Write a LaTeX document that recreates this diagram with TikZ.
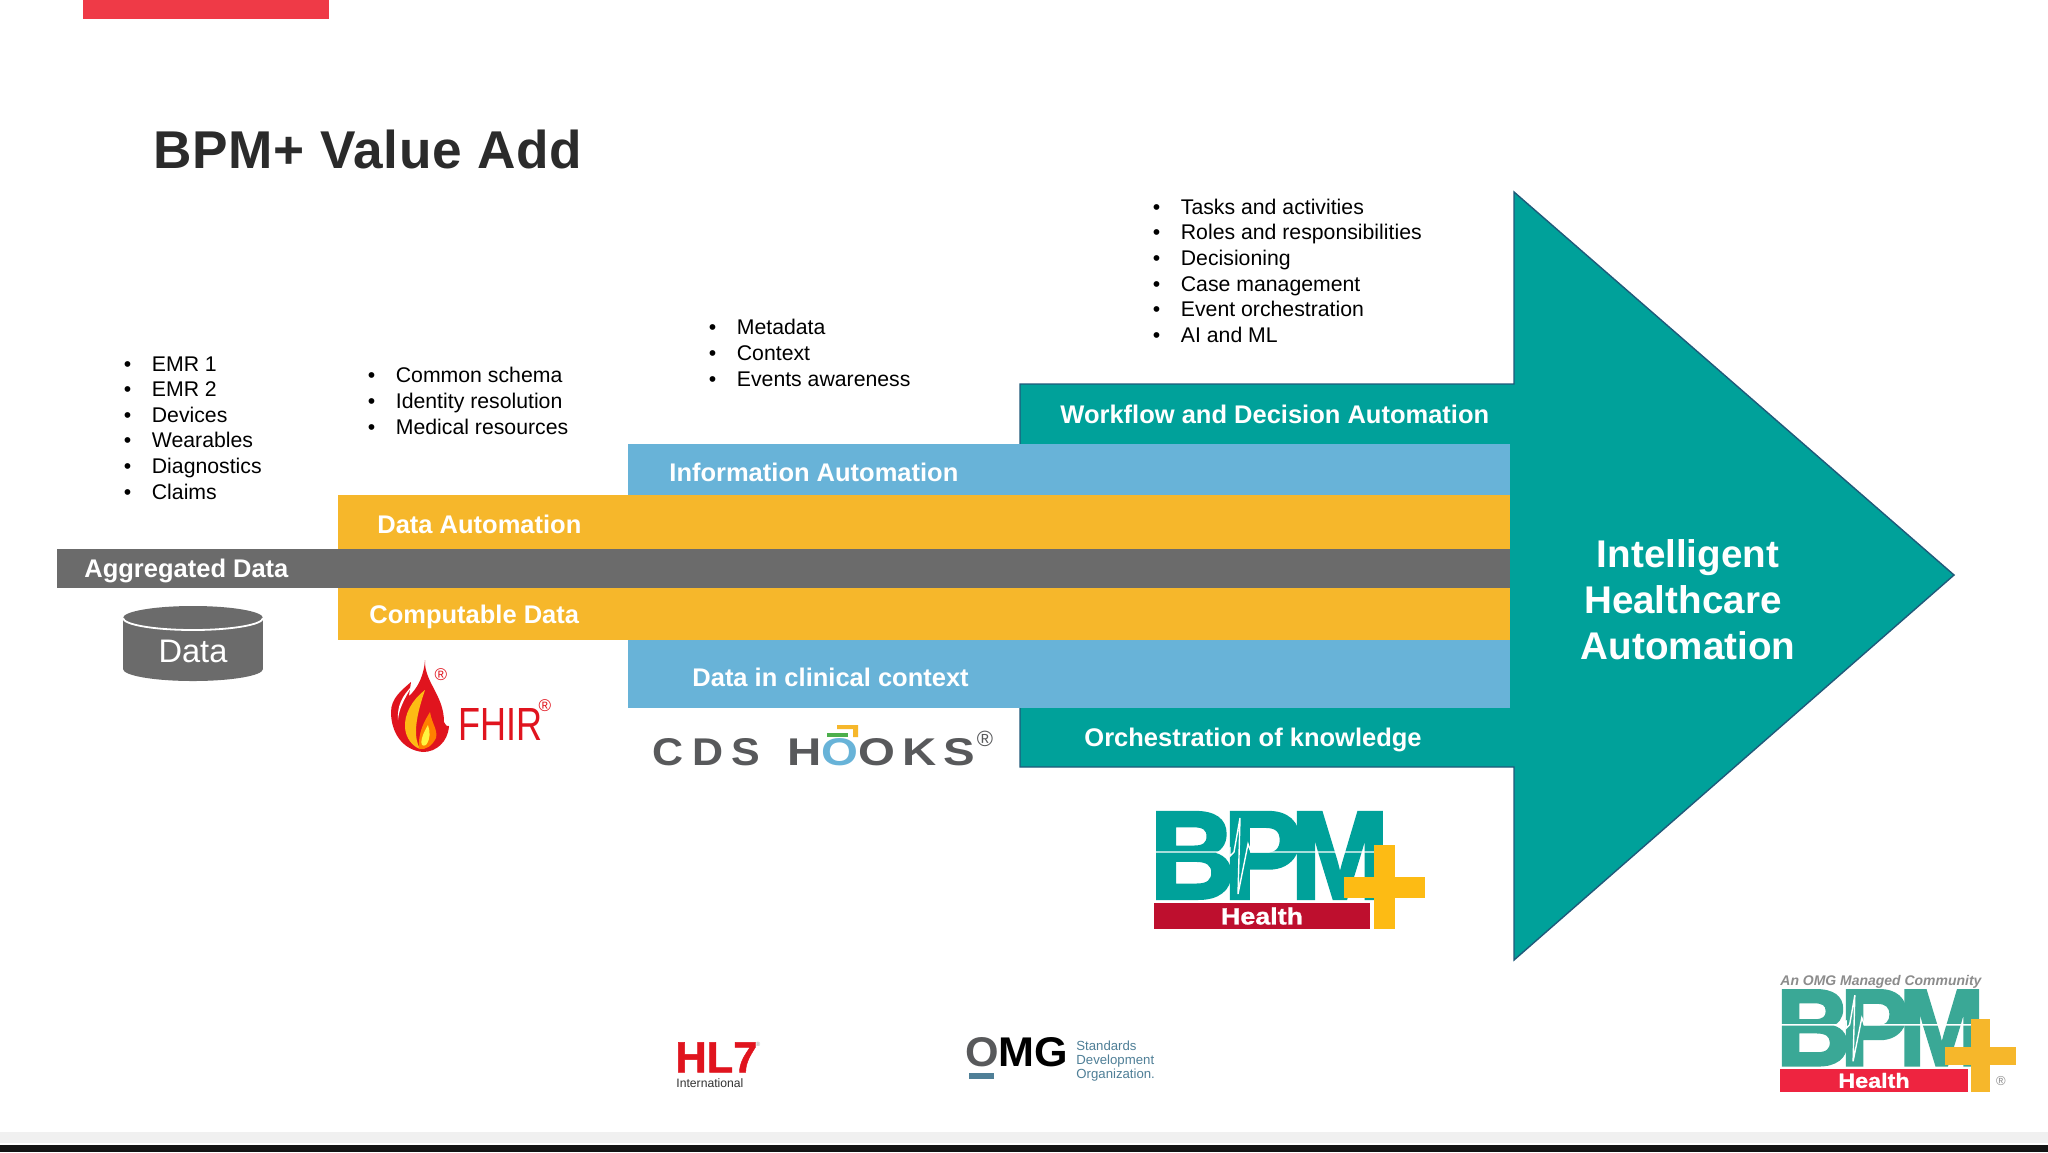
\documentclass[tikz,border=0pt]{standalone}
\usepackage{fontspec}
\usepackage{graphicx}
\setmainfont{Liberation Sans}
\definecolor{teal1}{HTML}{00A19A}
\definecolor{teal2}{HTML}{3AA896}
\definecolor{edge1}{HTML}{1F5A7A}
\definecolor{sky1}{HTML}{68B3D8}
\definecolor{amber1}{HTML}{F6B72B}
\definecolor{amber2}{HTML}{FDBB14}
\definecolor{slate1}{HTML}{6B6B6B}
\definecolor{slate2}{HTML}{58595B}
\definecolor{red1}{HTML}{EF3A47}
\definecolor{red2}{HTML}{BE0F2E}
\definecolor{red3}{HTML}{EE2440}
\definecolor{red4}{HTML}{E0141E}
\definecolor{ink1}{HTML}{2B2B2B}
\definecolor{omg1}{HTML}{4F7F97}
\newcommand\bulletitem[1]{\makebox[14pt][l]{\textbullet}#1}
\newcommand\bpmlogo[7]{%
	\begin{scope}[shift={(#1,#2)},scale=#3,transform shape]
		\node (#7L) [anchor=north west,inner sep=0pt,text=#4] at (0,0) {\resizebox{115pt}{43pt}{\addfontfeature{FakeBold=2.5}\bfseries\kern-.04em B\kern-.1em P\kern-.1em M\kern-.04em}};
		\draw[white,line width=0.7pt] (0,40) -- (70,40) -- (76,36) -- (76,44) -- (80,40) -- (86,6) -- (84,82) -- (94,32) -- (97,40) -- (220,40);
		\fill[#5] (0,91) rectangle (216,117);
		\fill[#6] (220,33) rectangle (241,117);
		\fill[#6] (190,65) rectangle (271,86);
		\node (#7H) [white,inner sep=0pt] at (108,104) {\resizebox{41pt}{8.5pt}{\addfontfeature{FakeBold=1}\bfseries Health}};
	\end{scope}}
\begin{document}
\begin{tikzpicture}[x=0.5pt,y=-0.5pt,
	label/.style={anchor=base west,inner sep=0pt,text=white,font=\fontsize{12.75}{15}\bfseries\selectfont},
	items/.style={anchor=north west,inner sep=0pt,align=left,text=black,font=\fontsize{10.62}{12.8}\selectfont}]
	\useasboundingbox (0,0) rectangle (2048,1152);
	\fill[white] (0,0) rectangle (2048,1152);
	\fill[red1] (83,0) rectangle (329,19);
	\fill[black!6] (0,1132) rectangle (2048,1143);
	\fill[black!92] (0,1145) rectangle (2048,1152);
	\node (Title) [anchor=base west,inner sep=0pt,text=ink1,font=\fontsize{26.6}{32}\bfseries\selectfont] at (153,168) {\addfontfeature{LetterSpace=1.3}BPM+ Value Add};

	\draw[edge1,fill=teal1,line width=0.7pt] (1020,384) -- (1514,384) -- (1514,192) -- (1954,575) -- (1514,960) -- (1514,767) -- (1020,767) -- cycle;
	\fill[sky1] (628,444) rectangle (1510,708);
	\fill[amber1] (338,495) rectangle (1510,640);
	\fill[slate1] (57,549) rectangle (1510,588);

	\node (Agg) [label] at (84,577) {Aggregated Data};
	\node (DataAuto) [label] at (377,533) {Data Automation};
	\node (Computable) [label] at (369,623) {Computable Data};
	\node (InfoAuto) [label] at (669,481) {Information Automation};
	\node (Clinical) [label] at (692,686) {Data in clinical context};
	\node (Workflow) [label] at (1060,423) {Workflow and Decision Automation};
	\node (Orchestration) [label] at (1084,746) {Orchestration of knowledge};
	\node (Goal) [white,inner sep=0pt,align=center,font=\fontsize{19.3}{23}\bfseries\selectfont] at (1688,600) {Intelligent\\\mbox{Healthcare\kern5.2pt}\\Automation};

	\node (ListA) [items] at (123.5,356) {\bulletitem{EMR 1}\\\bulletitem{EMR 2}\\\bulletitem{Devices}\\\bulletitem{Wearables}\\\bulletitem{Diagnostics}\\\bulletitem{Claims}};
	\node (ListB) [items] at (367.5,367) {\bulletitem{Common schema}\\\bulletitem{Identity resolution}\\\bulletitem{Medical resources}};
	\node (ListC) [items] at (708.5,319) {\bulletitem{Metadata}\\\bulletitem{Context}\\\bulletitem{Events awareness}};
	\node (ListD) [items] at (1152.5,198.5) {\bulletitem{Tasks and activities}\\\bulletitem{Roles and responsibilities}\\\bulletitem{Decisioning}\\\bulletitem{Case management}\\\bulletitem{Event orchestration}\\\bulletitem{AI and ML}};

	% data drum
	\fill[slate1] (123,618) rectangle (263,669);
	\fill[slate1] (193,669) ellipse [x radius=70,y radius=12];
	\fill[slate1] (193,618) ellipse [x radius=70,y radius=12];
	\draw[white,line width=0.9pt] (123,618) arc [start angle=180,end angle=0,x radius=70,y radius=12];
	\node (Drum) [white,inner sep=0pt,font=\fontsize{16.3}{20}\selectfont] at (193,651) {Data};

	% flame
	\fill[red4] (425,660) .. controls (424,682) and (444,695) .. (444,722) .. controls (446,726) and (448,727) .. (449,726) .. controls (448,742) and (436,752) .. (423,752) .. controls (402,750) and (391,732) .. (391,712) .. controls (391,698) and (402,690) .. (411,682) .. controls (410,690) and (409,694) .. (409,696) .. controls (418,688) and (424,675) .. (425,660) -- cycle;
	\fill[white] (412,686) .. controls (402,696) and (397,706) .. (398,720) .. controls (399,708) and (405,698) .. (412,686) -- cycle;
	\fill[amber2] (425,690) .. controls (412,700) and (404,714) .. (405,728) .. controls (406,738) and (412,746) .. (420,749) .. controls (414,738) and (414,722) .. (425,690) -- cycle;
	\fill[orange] (430,712) .. controls (432,724) and (438,730) .. (436,738) .. controls (432,746) and (426,750) .. (419,749) .. controls (418,732) and (424,722) .. (430,712) -- cycle;
	\fill[yellow!75] (428,725) .. controls (430,732) and (431,738) .. (426,745) .. controls (420,748) and (419,740) .. (428,725) -- cycle;
	\node (FlameReg) [text=red4,inner sep=0pt,font=\fontsize{8.5}{9}\selectfont] at (441,675) {®};
	\node (Fhir) [anchor=north west,inner sep=0pt,text=red4] at (458,708) {\resizebox{42pt}{16pt}{FHIR}};
	\node (FhirReg) [text=red4,inner sep=0pt,font=\fontsize{8.5}{9}\selectfont] at (545,706) {®};

	% cds hooks
	\node (Cds) [anchor=north west,inner sep=0pt,text=slate2] at (652,738) {\resizebox{54pt}{13.5pt}{\addfontfeature{LetterSpace=20}\bfseries CDS}};
	\node (Hooks) [anchor=north west,inner sep=0pt,text=slate2] at (787,738) {\resizebox{94pt}{13.5pt}{\addfontfeature{LetterSpace=15}\bfseries H\textcolor{sky1}{O}OKS}};
	\fill[green!55!black!70!white] (827,733) rectangle (848,737);
	\fill[amber1] (837,725) -- (858,725) -- (858,737) -- (853,737) -- (853,729) -- (837,729) -- cycle;
	\node (HooksReg) [text=slate2,inner sep=0pt,font=\fontsize{11}{12}\selectfont] at (985,739) {®};

	% bpm logos
	\bpmlogo{1154}{812}{1}{teal1}{red2}{amber2}{Mid}
	\bpmlogo{1780}{990}{0.87}{teal2}{red3}{amber1}{Corner}
	\node (Community) [anchor=base west,inner sep=0pt,text=black!45] at (1780,985) {\resizebox{100.5pt}{!}{\bfseries\itshape An OMG Managed Community}};
	\node (CornerReg) [text=black!45,inner sep=0pt,font=\fontsize{6.5}{7}\selectfont] at (2001,1081) {®};

	% bottom logos
	\node (Hl) [anchor=north west,inner sep=0pt,text=red4] at (675,1042) {\resizebox{41pt}{15pt}{\addfontfeature{FakeBold=1}\bfseries HL7}};
	\node (HlReg) [text=black!40,inner sep=0pt,font=\fontsize{3}{4}\selectfont] at (758,1044) {®};
	\node (Intl) [anchor=base west,inner sep=0pt,text=black!80] at (676,1087) {\resizebox{33.5pt}{!}{International}};
	\node (Omg) [anchor=north west,inner sep=0pt,text=black] at (965,1037) {\resizebox{51.5pt}{14.5pt}{\bfseries\textcolor{slate2}{O}MG}};
	\fill[omg1] (969,1073) rectangle (994,1079);
	\node (Sdo) [anchor=west,inner sep=0pt,align=left,text=omg1,font=\fontsize{6.6}{7}\selectfont] at (1076,1061) {Standards\\Development\\Organization.};
\end{tikzpicture}
\end{document}
